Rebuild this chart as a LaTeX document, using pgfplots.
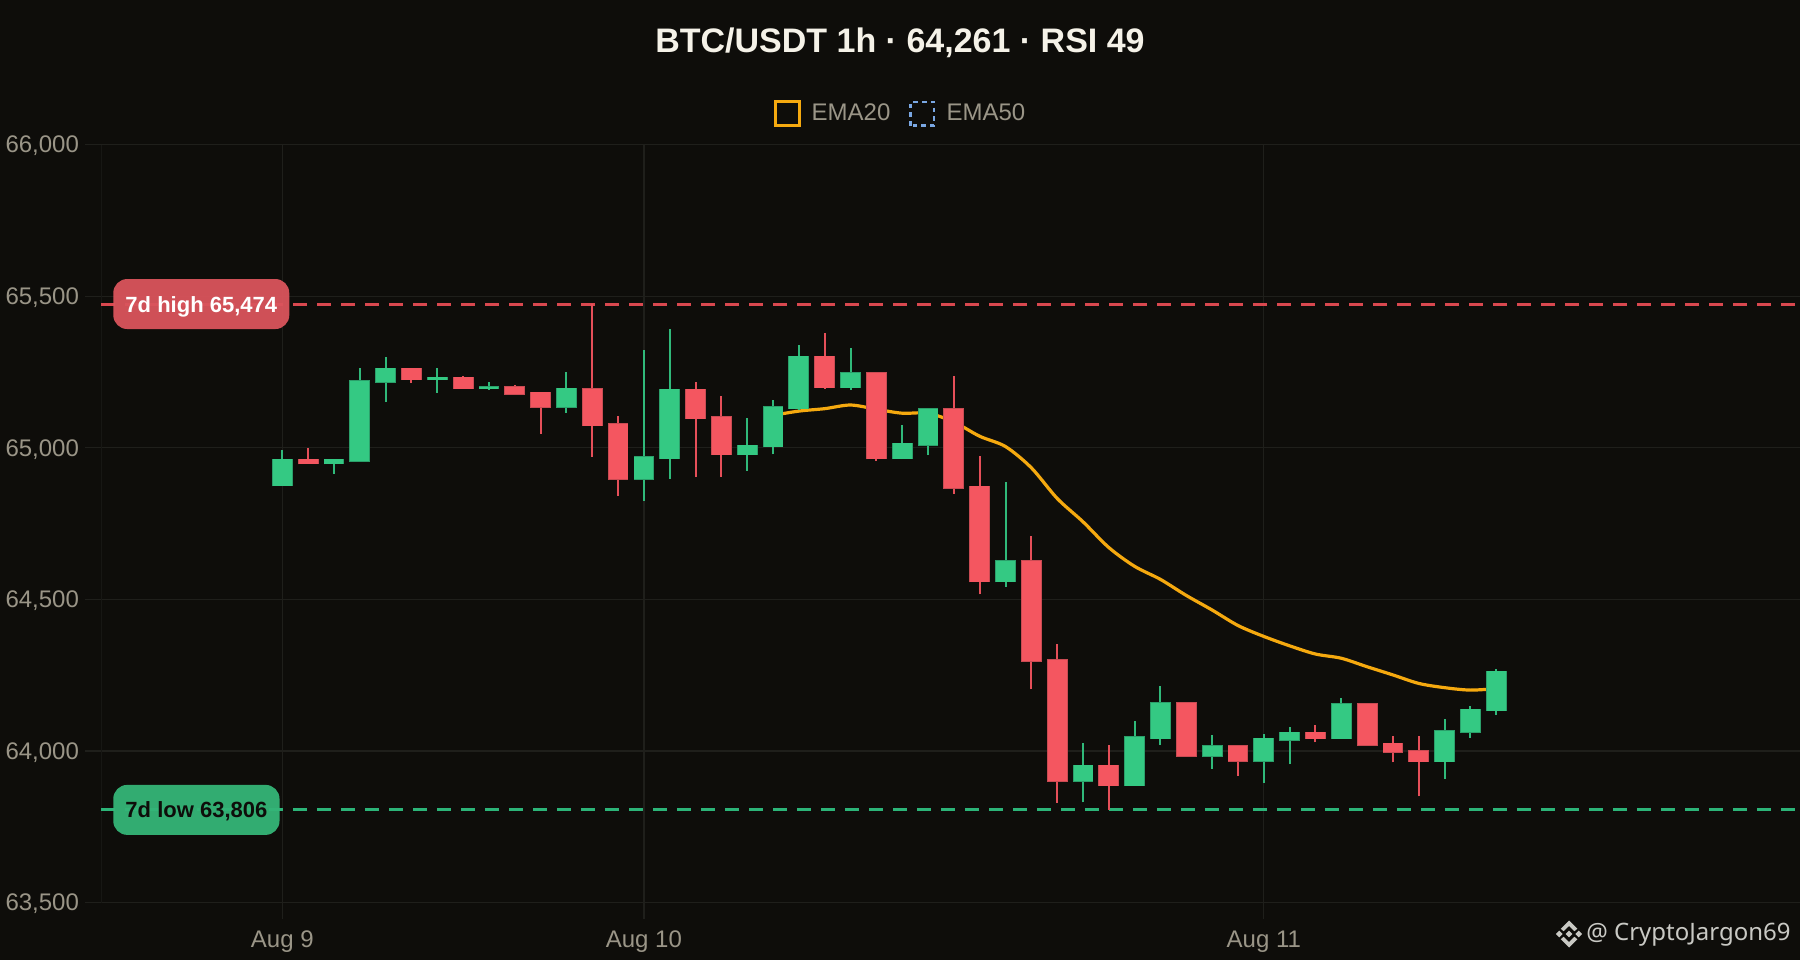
\documentclass[border=0pt]{standalone}
\usepackage{fontspec}
\setmainfont{Liberation Sans}
\newfontfamily\wmfont{Noto Sans}
\usepackage{pgfplots}
\usepackage{pgfplotstable}
\pgfplotsset{compat=1.18}
\definecolor{bg}{HTML}{0E0D0A}
\definecolor{gridc}{HTML}{1F1F1B}
\definecolor{gridl}{HTML}{171714}
\definecolor{tickc}{HTML}{9A9587}
\definecolor{titlec}{HTML}{F5F2E8}
\definecolor{upc}{HTML}{34C983}
\definecolor{dnc}{HTML}{F45660}
\definecolor{upb}{HTML}{2B9F6A}
\definecolor{dnb}{HTML}{C94B53}
\definecolor{upw}{HTML}{30B97A}
\definecolor{dnw}{HTML}{E54F59}
\definecolor{emaa}{HTML}{F5A90F}
\definecolor{emab}{HTML}{7AA7E3}
\definecolor{lblr}{HTML}{DA545C}
\definecolor{lblg}{HTML}{34B577}
\definecolor{dashr}{HTML}{D9484F}
\definecolor{dashg}{HTML}{2CB478}
\definecolor{wm}{HTML}{C9C9C4}
\pgfplotstableread{
x lo bl bh hi
0 64874 64874 64962 64993
2 64915 64947 64962 64962
3 64956 64956 65221 65264
4 65151 65216 65262 65298
6 65182 65225 65233 65264
8 65192 65195 65202 65218
11 65115 65133 65196 65249
14 64826 64897 64970 65321
15 64898 64964 65193 65391
18 64924 64977 65009 65098
19 64978 65003 65136 65158
20 65125 65129 65302 65339
22 65191 65198 65248 65328
24 64963 64963 65015 65074
25 64976 65008 65128 65130
28 64542 64558 64628 64886
31 63831 63900 63954 64026
33 63886 63886 64048 64099
34 64021 64041 64160 64214
36 63942 63983 64018 64053
38 63895 63966 64042 64056
39 63957 64036 64062 64078
41 64041 64041 64156 64174
45 63909 63965 64067 64106
46 64044 64062 64138 64148
47 64120 64133 64263 64270
}\upt
\pgfplotstableread{
x lo bl bh hi
1 64947 64947 64962 64998
5 65214 65225 65262 65262
7 65195 65195 65233 65238
9 65176 65176 65202 65208
10 65046 65133 65183 65183
12 64971 65073 65195 65474
13 64842 64897 65080 65106
16 64903 65096 65193 65218
17 64905 64977 65102 65171
21 65194 65198 65302 65379
23 64958 64963 65248 65248
26 64849 64866 65128 65237
27 64517 64558 64873 64973
29 64203 64296 64628 64709
30 63830 63900 64301 64352
32 63806 63886 63954 64019
35 63983 63983 64160 64160
37 63919 63966 64018 64019
40 64029 64041 64062 64085
42 64019 64019 64156 64157
43 63963 63996 64026 64050
44 63851 63965 64001 64049
}\dnt
\pgfplotstableread{
x v
19 65107
20 65121
21 65129
22 65141
23 65127
24 65114
25 65114
26 65085
27 65038
28 65004
29 64934
30 64833
31 64756
32 64671
33 64609
34 64566
35 64513
36 64465
37 64414
38 64378
39 64347
40 64320
41 64306
42 64278
43 64251
44 64223
45 64209
46 64201
47 64206
}\emat
\pgfplotsset{
  cstick/.style n args={2}{draw=none, mark=none, forget plot,
    error bars/.cd, y dir=plus, y explicit, error mark=none,
    error bar style={draw=#1, line width=#2, solid}},
  boxbox/.style={legend image code/.code={\draw[#1] (0pt,-5.9pt) rectangle (11.8pt,5.9pt); \path[draw=none] (0pt,0pt) -- (16pt,0pt);}},
}
\newcommand{\lbl}[1]{\raisebox{-4pt}[0pt][0pt]{#1}}
\begin{document}
\begin{tikzpicture}[x=0.5pt,y=0.5pt]
\useasboundingbox (0,0) rectangle (1800,960);
\fill[bg] (0,0) rectangle (1800,960);
\begin{axis}[
  at={(50.5pt,28.65pt)}, anchor=south west,
  scale only axis, width=849.5pt, height=379.1pt,
  xmin=-7.02, xmax=58.76, ymin=63500, ymax=66000,
  axis lines*=left,
  x axis line style={draw=gridc, line width=0.6pt},
  y axis line style={draw=gridl, line width=0.5pt},
  xtick={0,14,38}, xticklabels={Aug 9,Aug 10,Aug 11},
  ytick={63500,64000,64500,65000,65500,66000},
  scaled y ticks=false,
  /pgf/number format/1000 sep={,},
  /pgf/number format/assume math mode=true,
  tick align=outside, major tick length=8pt,
  tick style={draw=gridc, line width=0.6pt},
  grid=major, major grid style={draw=gridc, line width=0.6pt},
  ticklabel style={font=\fontsize{12}{14}\selectfont, text=tickc},
  xticklabel style={yshift=-2.7pt},
  yticklabel style={yshift=-0.7pt, xshift=0.5pt},
  legend style={at={(0.4713,1.0405)}, anchor=center, draw=none, fill=none,
    legend columns=2, font=\fontsize{12}{14}\selectfont, text=tickc,
    /tikz/every even column/.append style={column sep=7.5pt}},
  legend cell align=left,
]
\addlegendimage{boxbox, draw=emaa, line width=1.5pt}
\addlegendentry{EMA20}
\addlegendimage{boxbox, draw=emab, line width=1.2pt, dash pattern=on 2.2pt off 2.2pt}
\addlegendentry{EMA50}
% 7d high / low
\addplot[forget plot, draw=dashr, line width=1.5pt, dash pattern=on 7pt off 5pt] coordinates {(-7.02,65474) (58.76,65474)};
\addplot[forget plot, draw=dashg, line width=1.5pt, dash pattern=on 7pt off 5pt] coordinates {(-7.02,63806) (58.76,63806)};
% EMA20
\addplot[forget plot, draw=emaa, line width=1.6pt, smooth, tension=0.5, mark=none] table[x=x,y=v] {\emat};
% wicks
\addplot[cstick={upw}{1pt}] table[x=x,y=lo,y error plus expr=\thisrow{hi}-\thisrow{lo}] {\upt};
\addplot[cstick={dnw}{1pt}] table[x=x,y=lo,y error plus expr=\thisrow{hi}-\thisrow{lo}] {\dnt};
% body outlines
\addplot[cstick={upb}{10.4pt}] table[x=x,y expr=\thisrow{bl}-1.6,y error plus expr=\thisrow{bh}-\thisrow{bl}+3.2] {\upt};
\addplot[cstick={dnb}{10.4pt}] table[x=x,y expr=\thisrow{bl}-1.6,y error plus expr=\thisrow{bh}-\thisrow{bl}+3.2] {\dnt};
% bodies
\addplot[cstick={upc}{9.5pt}] table[x=x,y=bl,y error plus expr=\thisrow{bh}-\thisrow{bl}] {\upt};
\addplot[cstick={dnc}{9.5pt}] table[x=x,y=bl,y error plus expr=\thisrow{bh}-\thisrow{bl}] {\dnt};
% labels
\node[anchor=west, fill=lblr, fill opacity=0.95, text opacity=1, text=white, rounded corners=7pt, minimum height=25pt, inner xsep=6.1pt, inner ysep=0pt, font=\fontsize{11}{13}\selectfont\bfseries] at (axis cs:-6.56,65474) {\lbl{7d high 65,474}};
\node[anchor=west, fill=lblg, fill opacity=0.95, text opacity=1, text=bg, rounded corners=7pt, minimum height=25pt, inner xsep=6.1pt, inner ysep=0pt, font=\fontsize{11}{13}\selectfont\bfseries] at (axis cs:-6.56,63806) {\lbl{7d low 63,806}};
\end{axis}
\node[text=titlec, font=\fontsize{17}{20}\selectfont\bfseries] at (900,917) {BTC/USDT 1h · 64,261 · RSI 49};
% watermark
\begin{scope}[shift={(1569,26)}, fill=wm]
  \fill (0,3.4) -- (3.4,0) -- (0,-3.4) -- (-3.4,0) -- cycle;
  \fill (-9.8,3.4) -- (-6.4,0) -- (-9.8,-3.4) -- (-13.2,0) -- cycle;
  \fill (9.8,3.4) -- (13.2,0) -- (9.8,-3.4) -- (6.4,0) -- cycle;
  \fill (0,13.5) -- (8.3,5.2) -- (5.4,2.8) -- (0,8) -- (-5.4,2.8) -- (-8.3,5.2) -- cycle;
  \fill (0,-13.5) -- (8.3,-5.2) -- (5.4,-2.8) -- (0,-8) -- (-5.4,-2.8) -- (-8.3,-5.2) -- cycle;
\end{scope}
\node[anchor=east, inner sep=0pt, text=wm, font=\wmfont\fontsize{12}{14}\selectfont] at (1791,25) {@ CryptoJargon69};
\end{tikzpicture}
\end{document}
